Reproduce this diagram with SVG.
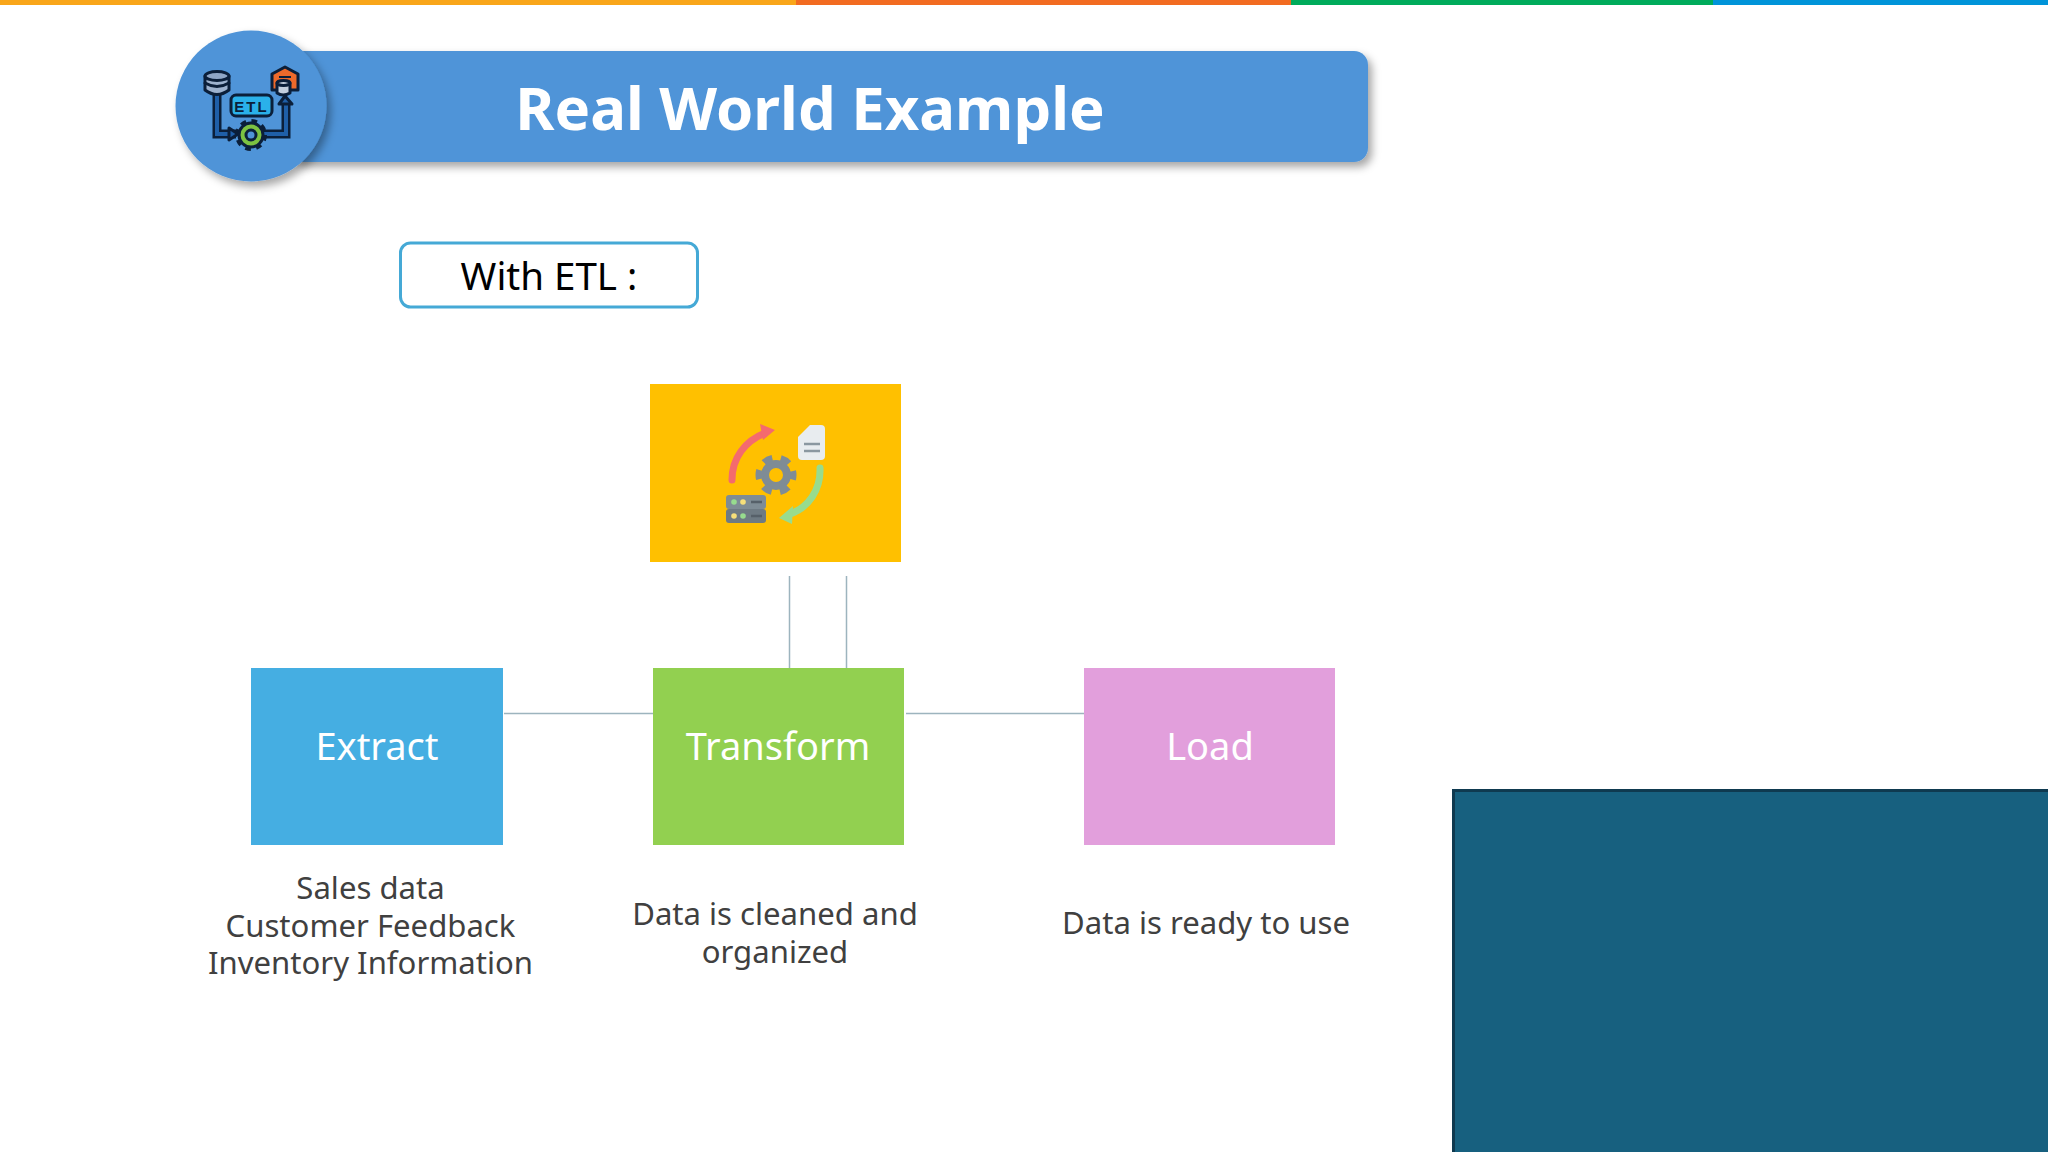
<svg xmlns="http://www.w3.org/2000/svg" width="2048" height="1152" viewBox="0 0 2048 1152">
<defs>
<style>
.t{font-family:"Noto Sans","Open Sans","Liberation Sans",sans-serif}
.lbl{font-size:38px;fill:#fff;text-anchor:middle}
.cap{font-size:31.100px;fill:#404040;text-anchor:middle}
.conn{stroke:#9DB4BE;stroke-width:1.5;fill:none}
.ol{stroke:#0B1F3A;stroke-width:3;stroke-linejoin:round;stroke-linecap:round}
</style>
<filter id="sh" x="-10%" y="-20%" width="120%" height="150%"><feDropShadow dx="4" dy="5" stdDeviation="4" flood-color="#000" flood-opacity=".35"/></filter>
</defs>
<rect width="2048" height="1152" fill="#fff"/>
<g id="topbar">
<rect x="0" y="0" width="796" height="5" fill="#F9A61A"/>
<rect x="796" y="0" width="495" height="5" fill="#F26B21"/>
<rect x="1291" y="0" width="422" height="5" fill="#00AB5B"/>
<rect x="1713" y="0" width="335" height="5" fill="#0094D9"/>
</g>
<g id="banner">
<rect x="290" y="51" width="1078" height="111" rx="14" fill="#4F94D8" filter="url(#sh)"/>
<circle cx="251" cy="106" r="75.5" fill="#4F94D8" filter="url(#sh)"/>
<text class="t" x="810" y="130" font-size="59.800" font-weight="700" fill="#fff" text-anchor="middle">Real World Example</text>
</g>
<g id="etl-icon">
<path d="M217 93V134H236M262 134H286V102" fill="none" stroke="#0B1F3A" stroke-width="9"/>
<path d="M217 93V134H236M262 134H286V102" fill="none" stroke="#1F5FA8" stroke-width="4"/>
<path d="M229 128L238 134L229 140Z" fill="#1F5FA8" class="ol"/>
<path d="M279 104L285 96L292 104Z" fill="#1F5FA8" class="ol"/>
<path d="M205 76V90Q217 99 229 90V76" fill="#9DB2CF" class="ol"/>
<ellipse cx="217" cy="76" rx="12" ry="4.500" fill="#8FA6C6" class="ol"/>
<path d="M205 83Q217 90 229 83" fill="none" class="ol"/>
<path d="M272 74V90H298V74L285 67Z" fill="#EE6A2B" class="ol"/>
<path d="M279 77H291" stroke="#0B1F3A" stroke-width="2"/>
<path d="M277 83V93Q283 97 290 93V83" fill="#C3CFDF" class="ol"/>
<ellipse cx="283.500" cy="83" rx="6.500" ry="2.500" fill="#C3CFDF" class="ol"/>
<rect x="231" y="95" width="41" height="21" rx="5" fill="#2AB1EA" class="ol"/>
<text x="251.500" y="112" font-family="Liberation Sans,sans-serif" font-size="15" font-weight="700" letter-spacing="2" fill="#0B1F3A" text-anchor="middle">ETL</text>
<circle cx="251" cy="135" r="12.500" fill="#7CC242" stroke="#0B1F3A" stroke-width="7" stroke-dasharray="5 4.820"/>
<circle cx="251" cy="135" r="12" fill="#7CC242" class="ol"/>
<circle cx="251" cy="135" r="5" fill="#4F94D8" class="ol"/>
</g>
<g id="with-etl">
<rect x="400.500" y="243" width="297" height="64" rx="10" fill="#fff" stroke="#45A9D6" stroke-width="3"/>
<text class="t" x="549" y="290" font-size="38.500" fill="#000" text-anchor="middle">With ETL :</text>
</g>
<g id="connectors">
<path class="conn" d="M504 713.500H653M906 713.500H1084M789.500 576V668M846.500 576V668"/>
</g>
<g id="process-card">
<rect x="650" y="384" width="251" height="178" fill="#FFC000"/>
<path d="M732 480C732 458 745 441 765 433" fill="none" stroke="#F46A6E" stroke-width="7" stroke-linecap="round"/>
<path d="M760 424L775 430L763 440Z" fill="#F46A6E"/>
<path d="M820 468C821 490 808 508 790 514" fill="none" stroke="#97DC8E" stroke-width="7" stroke-linecap="round"/>
<path d="M793 506L779 518L792 524Z" fill="#97DC8E"/>
<path d="M810 425H821Q825 425 825 429V456Q825 460 821 460H802Q798 460 798 456V437Z" fill="#E8ECEF"/>
<path d="M804 444H820M804 451H820" stroke="#8A97A0" stroke-width="2.500"/>
<circle cx="776" cy="475" r="11" fill="none" stroke="#7F8C95" stroke-width="8"/>
<circle cx="776" cy="475" r="16.500" fill="none" stroke="#7F8C95" stroke-width="8" stroke-dasharray="9 8.280" stroke-dashoffset="4.500"/>
<rect x="726" y="495" width="40" height="14" rx="3" fill="#7F8C95"/>
<rect x="726" y="509" width="40" height="14" rx="3" fill="#6E7A83"/>
<circle cx="734" cy="502" r="2.800" fill="#97DC8E"/><circle cx="743" cy="502" r="2.800" fill="#F6DF7A"/>
<circle cx="734" cy="516" r="2.800" fill="#F6DF7A"/><circle cx="743" cy="516" r="2.800" fill="#97DC8E"/>
<path d="M751 502H762M751 516H762" stroke="#566069" stroke-width="2.500"/>
</g>
<g id="extract">
<rect x="251" y="668" width="252" height="177" fill="#45AEE2"/>
<text class="t lbl" x="377" y="760">Extract</text>
</g>
<g id="transform">
<rect x="653" y="668" width="251" height="177" fill="#92D050"/>
<text class="t lbl" x="778" y="760">Transform</text>
</g>
<g id="load">
<rect x="1084" y="668" width="251" height="177" fill="#E29FDC"/>
<text class="t lbl" x="1210" y="760">Load</text>
</g>
<g id="captions">
<text class="t cap" x="370.500" y="898.500">Sales data</text>
<text class="t cap" x="370.500" y="936.500">Customer Feedback</text>
<text class="t cap" x="370.500" y="973.500">Inventory Information</text>
<text class="t cap" x="775" y="925">Data is cleaned and</text>
<text class="t cap" x="775" y="963">organized</text>
<text class="t cap" x="1206" y="934">Data is ready to use</text>
</g>
<rect id="video-box" x="1453.500" y="790.500" width="600" height="370" fill="#17607F" stroke="#0F3A50" stroke-width="3"/>
</svg>
